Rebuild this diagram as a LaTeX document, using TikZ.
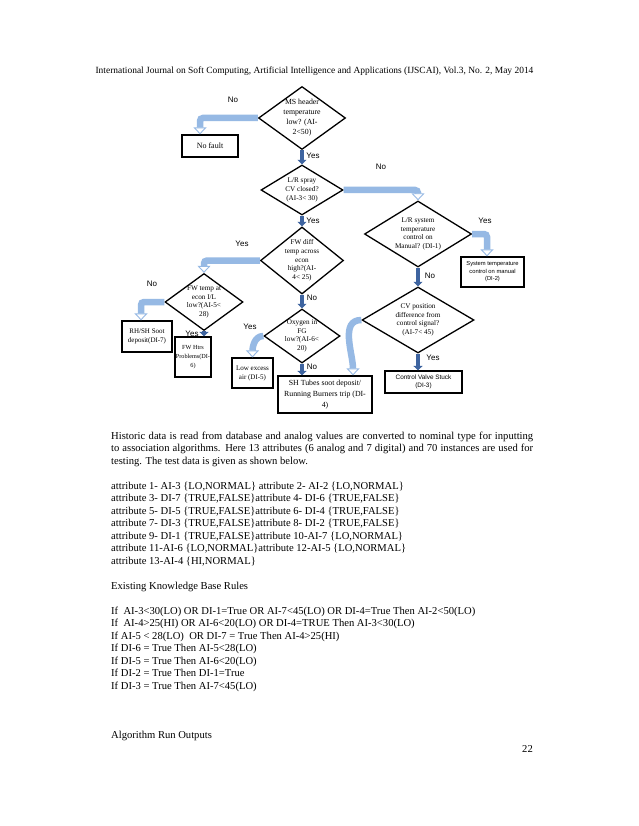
\documentclass[tikz,border=0pt]{standalone}
\usepackage{fontspec}
\setmainfont{Liberation Serif}
\newfontfamily\arialfont{Liberation Sans}
\usetikzlibrary{shapes.geometric,arrows.meta,shadows,positioning}
\definecolor{tubeblue}{RGB}{150,185,228}
\definecolor{stemblue}{RGB}{62,100,160}
\newcommand{\bodysize}{\fontsize{10.6}{12.5}\selectfont}
\newcommand{\dsize}{\fontsize{7.2}{8.7}\selectfont}
\newcommand{\bsize}{\fontsize{7}{9}\selectfont}
\newcommand{\tubewidth}{6.5pt}

\begin{document}
\begin{tikzpicture}[x=1pt,y=-1pt,
  dia/.style={diamond,draw,line width=1.3pt,inner sep=-4pt,align=center,font=\dsize},
  outbox/.style={rectangle,draw,line width=1.2pt,fill=white,align=center,inner sep=0.5pt,font=\bsize,
    drop shadow={shadow xshift=0.9pt,shadow yshift=-0.9pt,opacity=1,fill=black}},
  yn/.style={font=\arialfont\fontsize{8}{8}\selectfont,inner sep=0pt},
  stem/.style={line width=4.5pt,draw=stemblue,-{Triangle[length=4.5pt,width=9pt]}},
  tube/.style={line width=\tubewidth,draw=tubeblue,rounded corners=3pt,
    -{Triangle[length=7pt,width=13pt,fill=white,line width=0.9pt]}},
  txt/.style={anchor=base west,inner sep=0pt,font=\bodysize}]
\fill[white] (0,0) rectangle (638,826);
\useasboundingbox (0,0) rectangle (638,826);
%header
\node[anchor=base,inner sep=0pt,font=\fontsize{9.45}{11}\selectfont] (h) at (314.5,74)
  {International Journal on Soft Computing, Artificial Intelligence and Applications (IJSCAI), Vol.3, No. 2, May 2014};
%decisions
\node[dia,minimum width=87pt,minimum height=63pt,font=\fontsize{7.8}{10}\selectfont] (1) at (302,118) {MS header\\temperature\\low? (AI-\\2<50)};
\node[dia,minimum width=82pt,minimum height=50pt] (2) at (302,190) {L/R spray\\CV closed?\\(AI-3< 30)};
\node[dia,minimum width=107pt,minimum height=66pt] (3) at (418,234) {L/R system\\temperature\\control on\\Manual? (DI-1)};
\node[dia,minimum width=112pt,minimum height=66pt] (4) at (418,320) {CV position\\difference from\\control signal?\\(AI-7< 45)};
\node[dia,minimum width=83pt,minimum height=67pt] (5) at (302,260.5) {FW diff\\temp across\\econ\\high?(AI-\\4< 25)};
\node[dia,minimum width=78pt,minimum height=57pt] (6) at (204,302) {FW temp at\\econ I/L\\low?(AI-5<\\28)};
\node[dia,minimum width=76pt,minimum height=54pt] (7) at (302,336) {Oxygen in\\FG\\low?(AI-6<\\20)};
%outcomes
\node[outbox,font=\fontsize{8}{9}\selectfont,minimum width=56pt,minimum height=22pt] (8) at (210,146) {No fault};
\node[outbox,font=\arialfont\fontsize{5.8}{7.5}\selectfont,minimum width=63pt,minimum height=30pt] (9) at (492.5,272) {System temperature\\control on manual\\(DI-2)};
\node[outbox,minimum width=50pt,minimum height=31pt] (10) at (147,336.5) {RH/SH Soot\\deposit(DI-7)};
\node[outbox,font=\fontsize{6.2}{8.7}\selectfont,minimum width=36pt,minimum height=40pt] (11) at (193,357) {FW Htrs\\Problems(DI-\\6)};
\node[outbox,minimum width=41pt,minimum height=30pt] (12) at (252.5,373) {Low excess\\air (DI-5)};
\node[outbox,font=\fontsize{7.8}{11}\selectfont,minimum width=94pt,minimum height=37pt] (13) at (325,394.5) {SH Tubes soot deposit/\\Running Burners trip (DI-\\4)};
\node[outbox,font=\arialfont\fontsize{6.4}{8}\selectfont,minimum width=77pt,minimum height=22pt] (14) at (423.5,382) {Control Valve Stuck\\(DI-3)};
%stems
\draw[stem] (1.south) -- (2.north);
\draw[stem] (2.south) -- (5.north);
\draw[stem] (5.south) -- (7.north);
\draw[stem] (7.south) -- (7.south |- 13.north);
\draw[stem] (3.south) -- (4.north);
\draw[stem] (4.south) -- (4.south |- 14.north);
\draw[stem] (6.south) -- (6.south |- 11.north);
%tubes
\draw[tube] (1.west) -| ([xshift=-10pt]8.north);
\draw[tube] (2.east) -| (3.north);
\draw[tube] (3.east) -| ([xshift=-5.5pt]9.north);
\draw[tube] (5.west) -| (6.north);
\draw[tube] (6.west) -| ([xshift=-6pt]10.north);
\draw[tube] (7.west) to[out=180,in=90] (12.north);
\draw[tube] (4.west) to[out=180,in=90] ([xshift=28pt]13.north);
%yes no
\node[yn] (n1) at (233,100) {No};
\node[yn] (y1) at (313,156) {Yes};
\node[yn] (n2) at (381,167) {No};
\node[yn] (y2) at (313,221) {Yes};
\node[yn] (y3) at (485,221) {Yes};
\node[yn] (y4) at (242,244) {Yes};
\node[yn] (n3) at (430,276) {No};
\node[yn] (n4) at (152,284) {No};
\node[yn] (n5) at (312,298) {No};
\node[yn] (y5) at (250,327) {Yes};
\node[yn] (y6) at (192,334) {Yes};
\node[yn] (y7) at (433,358) {Yes};
\node[yn] (n6) at (312,367) {No};
%text
\node[txt] (l1) at (111,439) {\makebox[422pt][s]{Historic data is read from database and analog values are converted to nominal type for inputting}};
\node[txt] (l2) at (111,451.5) {\makebox[422pt][s]{to association algorithms. Here 13 attributes (6 analog and 7 digital) and 70 instances are used for}};
\node[txt] (l3) at (111,464) {testing. The test data is given as shown below.};
\node[txt] (a1) at (111,489) {attribute 1- AI-3 \{LO,NORMAL\} attribute 2- AI-2 \{LO,NORMAL\}};
\node[txt] (a2) at (111,501.5) {attribute 3- DI-7 \{TRUE,FALSE\}attribute 4- DI-6 \{TRUE,FALSE\}};
\node[txt] (a3) at (111,514) {attribute 5- DI-5 \{TRUE,FALSE\}attribute 6- DI-4 \{TRUE,FALSE\}};
\node[txt] (a4) at (111,526.5) {attribute 7- DI-3 \{TRUE,FALSE\}attribute 8- DI-2 \{TRUE,FALSE\}};
\node[txt] (a5) at (111,539) {attribute 9- DI-1 \{TRUE,FALSE\}attribute 10-AI-7 \{LO,NORMAL\}};
\node[txt] (a6) at (111,551.5) {attribute 11-AI-6 \{LO,NORMAL\}attribute 12-AI-5 \{LO,NORMAL\}};
\node[txt] (a7) at (111,564) {attribute 13-AI-4 \{HI,NORMAL\}};
\node[txt] (k) at (111,589) {Existing Knowledge Base Rules};
\node[txt] (r1) at (111,614) {If\ \ AI-3<30(LO) OR DI-1=True OR AI-7<45(LO) OR DI-4=True Then AI-2<50(LO)};
\node[txt] (r2) at (111,626.5) {If\ \ AI-4>25(HI) OR AI-6<20(LO) OR DI-4=TRUE Then AI-3<30(LO)};
\node[txt] (r3) at (111,639) {If AI-5 < 28(LO)\ \ OR DI-7 = True Then AI-4>25(HI)};
\node[txt] (r4) at (111,651.5) {If DI-6 = True Then AI-5<28(LO)};
\node[txt] (r5) at (111,664) {If DI-5 = True Then AI-6<20(LO)};
\node[txt] (r6) at (111,676.5) {If DI-2 = True Then DI-1=True};
\node[txt] (r7) at (111,689) {If DI-3 = True Then AI-7<45(LO)};
\node[txt] (o) at (111,738) {Algorithm Run Outputs};
\node[anchor=base east,inner sep=0pt,font=\bodysize] (pg) at (533,752) {22};
\end{tikzpicture}
\end{document}
